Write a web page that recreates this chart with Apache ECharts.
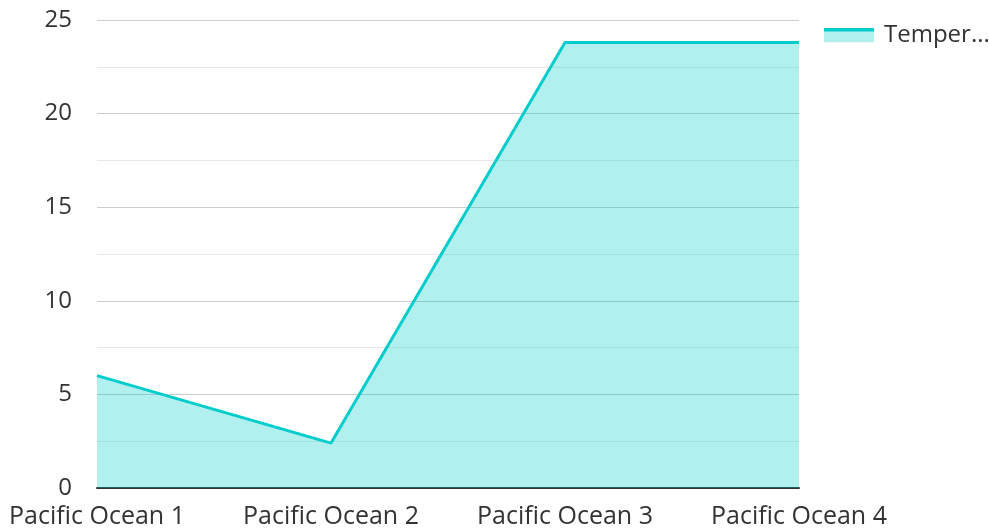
<!DOCTYPE html>
<html>
<head>
<meta charset="utf-8">
<script src="https://cdn.jsdelivr.net/npm/echarts@6/dist/echarts.min.js"></script>
<style>
  html, body { margin: 0; padding: 0; background: #fff; }
  #main { width: 989px; height: 529px; }
</style>
</head>
<body>
<div id="main"></div>
<script>
// 数据
var categories = ['Pacific Ocean 1', 'Pacific Ocean 2', 'Pacific Ocean 3', 'Pacific Ocean 4'];
var seriesName = 'Temperature';
var temperature = [6, 2.4, 23.8, 23.8];

var lineColor = '#00CCCC';
// legend icon: line on top of filled area
var iconSvg = '<svg xmlns="http://www.w3.org/2000/svg" width="50" height="15">' +
  '<rect x="0" y="0" width="50" height="15" fill="#b2efef"/>' +
  '<rect x="0" y="0" width="50" height="4" fill="#00cccc"/></svg>';

var myChart = echarts.init(document.getElementById('main'));
var option = {
  animation: false,
  textStyle: { fontFamily: 'Open Sans' },
  grid: { left: 97, right: 190, top: 20, bottom: 41, containLabel: false },
  legend: {
    left: 819,
    top: 18,
    itemWidth: 50,
    itemHeight: 15,
    icon: 'image://data:image/svg+xml;charset=utf-8,' + encodeURIComponent(iconSvg),
    textStyle: {
      fontSize: 24,
      color: '#333',
      width: 112,
      overflow: 'truncate',
      ellipsis: '...',
      padding: [0, 0, 0, 5]
    },
    data: [seriesName]
  },
  xAxis: {
    type: 'category',
    boundaryGap: false,
    data: categories,
    axisTick: { show: false },
    axisLine: { lineStyle: { color: '#333', width: 2 } },
    axisLabel: { fontSize: 25, color: '#333', margin: 16 }
  },
  yAxis: {
    type: 'value',
    min: 0,
    max: 25,
    interval: 5,
    axisLine: { show: false },
    axisTick: { show: false },
    axisLabel: { fontSize: 24, color: '#333', margin: 25 },
    splitLine: { lineStyle: { color: '#ccc', width: 1 } },
    minorTick: { show: false, splitNumber: 2 },
    minorSplitLine: { show: true, lineStyle: { color: '#e8e8e8', width: 1 } }
  },
  series: [{
    name: seriesName,
    type: 'line',
    data: temperature,
    showSymbol: false,
    symbol: 'none',
    lineStyle: { color: lineColor, width: 3 },
    itemStyle: { color: lineColor },
    areaStyle: { color: lineColor, opacity: 0.3 }
  }]
};
myChart.setOption(option);
</script>
</body>
</html>
